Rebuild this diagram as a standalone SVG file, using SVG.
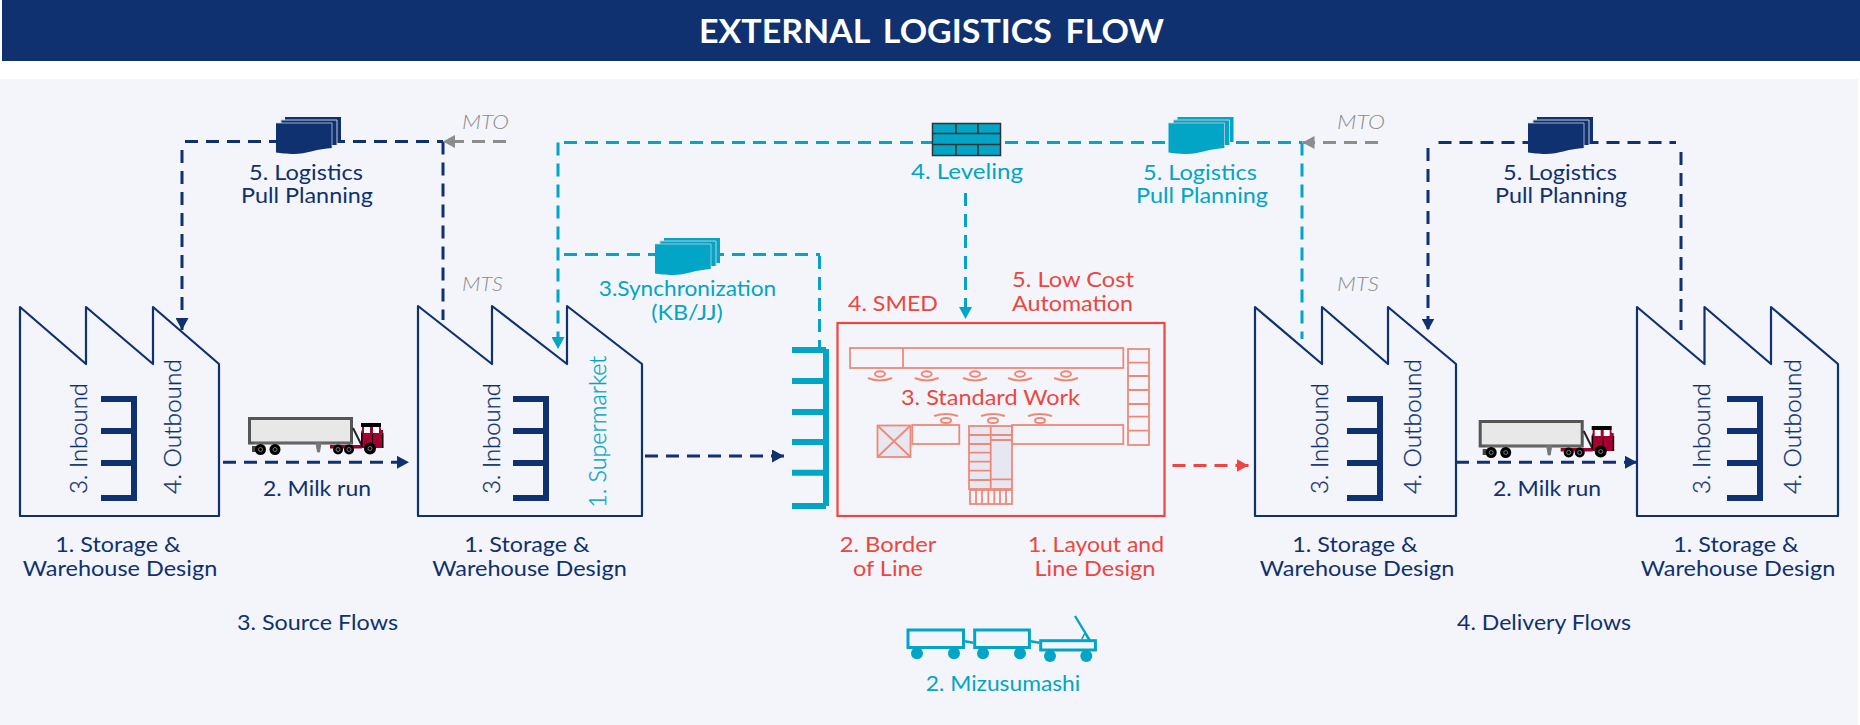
<svg xmlns="http://www.w3.org/2000/svg" xmlns:xlink="http://www.w3.org/1999/xlink" width="1860" height="725" viewBox="0 0 1860 725">
<style>
text{font-family:"Lato","Liberation Sans",sans-serif;font-size:22px;font-weight:400;text-anchor:middle}
.navy{fill:#10316F}.cyan{fill:#02A5C5}.red{fill:#EE4540}
.grey{fill:#8C8C8C;font-style:italic;font-size:20.500px;font-weight:300;text-anchor:start}
.rot{font-size:24px;font-weight:300;text-anchor:start;stroke-width:0.300px}
.rot.navy{stroke:#10316F}.rot.cyan{stroke:#02A5C5}
.factory{fill:none;stroke:#10316F;stroke-width:2.200;stroke-linejoin:round}
.rack{fill:none;stroke:#10316F;stroke-width:6}
.crack{fill:none;stroke:#02A5C5;stroke-width:6}
.dash{fill:none;stroke-width:3;stroke-dasharray:13 8}
.sn{stroke:#10316F}.sc{stroke:#02A5C5}.sg{stroke:#8C8C8C}.sr{stroke:#EE4540}
.sal{fill:none;stroke:#F08878;stroke-width:1.800}
.salf{fill:#E6E7F0;stroke:#F08878;stroke-width:1.800}
.op{fill:none;stroke:#F08878;stroke-width:2}
</style>
<defs>
<marker id="an" markerUnits="userSpaceOnUse" markerWidth="13" markerHeight="13" refX="12" refY="6.500" orient="auto"><path d="M0 0L12 6.500L0 13Z" fill="#10316F"/></marker>
<marker id="ac" markerUnits="userSpaceOnUse" markerWidth="13" markerHeight="13" refX="12" refY="6.500" orient="auto"><path d="M0 0L12 6.500L0 13Z" fill="#02A5C5"/></marker>
<marker id="ag" markerUnits="userSpaceOnUse" markerWidth="13" markerHeight="13" refX="12" refY="6.500" orient="auto"><path d="M0 0L12 6.500L0 13Z" fill="#8C8C8C"/></marker>
<marker id="ar" markerUnits="userSpaceOnUse" markerWidth="13" markerHeight="13" refX="12" refY="6.500" orient="auto"><path d="M0 0L12 6.500L0 13Z" fill="#EE4540"/></marker>
<g id="doc">
<rect x="9" y="0" width="56" height="25"/>
<path d="M5 28V3H61V28" stroke="#C3CBDD" stroke-width="1"/>
<path d="M0 6H56V31C42 31.500 30 37 18 37C10 37 5 36 0 35.500Z"/>
<path d="M0 6H56V31" fill="none" stroke="#C3CBDD" stroke-width="0.800"/>
</g>
<path id="rackE" class="rack" d="M0 3H33M0 35H33M0 67H33M0 102H33M33 0V105"/>
<g id="truck">
<rect x="249.500" y="418.500" width="102" height="24.500" fill="#E8E8E8" stroke="#555" stroke-width="3"/>
<path d="M254 443H352M316 443H321L319.500 452H317.500Z" fill="#777" stroke="#777" stroke-width="1"/>
<path d="M252 446H256V452H252Z" fill="#444"/>
<path d="M362 446L353 428" fill="none" stroke="#222" stroke-width="2"/>
<rect x="330" y="445" width="32" height="3.500" fill="#A00030"/>
<path d="M362 424L364 423H380L381 430H383V448H361V432L362 430Z" fill="#A50032"/>
<rect x="361" y="423" width="20" height="4" fill="#000"/>
<rect x="364" y="427" width="6" height="6" fill="#fff"/>
<rect x="373" y="427" width="6" height="6" fill="#fff"/>
<rect x="361" y="433" width="1.500" height="14" fill="#000"/>
<rect x="372" y="434" width="1" height="10" fill="#000"/>
<rect x="382" y="433" width="1.500" height="15" fill="#000"/>
<g fill="#000"><circle cx="260.500" cy="449.500" r="5.500"/><circle cx="275" cy="449.500" r="5.500"/><circle cx="338" cy="449.500" r="5"/><circle cx="349" cy="449.500" r="5"/><circle cx="370" cy="448.500" r="6"/></g>
<g fill="none" stroke="#999" stroke-width="0.800"><circle cx="260.500" cy="449.500" r="2"/><circle cx="275" cy="449.500" r="2"/><circle cx="338" cy="449.500" r="2"/><circle cx="349" cy="449.500" r="2"/><circle cx="370" cy="448.500" r="2"/></g>
</g>
<g id="opTop"><ellipse cx="0" cy="-2" rx="5" ry="2.800"/><path d="M-12 2Q0 7 12 2"/></g>
<g id="opBot"><path d="M-12 -2Q0 -6 12 -2"/><ellipse cx="0" cy="2.500" rx="5" ry="2.500"/></g>
</defs>

<rect width="1860" height="725" fill="#fff"/>
<rect id="panel" x="0" y="79" width="1858" height="646" fill="#F3F5FA"/>
<g id="header"><rect x="2" y="0" width="1858" height="61" fill="#10316F"/>
<text x="931.500" y="42.700" textLength="465" lengthAdjust="spacingAndGlyphs" style="font-size:32px;font-weight:700;fill:#fff;word-spacing:5px">EXTERNAL LOGISTICS FLOW</text></g>

<g id="connectors">
<path class="dash sn" d="M185 141.500H443"/>
<path class="dash sn" d="M182 150V330" marker-end="url(#an)"/>
<path class="dash sn" d="M443 141.500V320"/>
<path class="dash sg" d="M506 141.500H443" marker-end="url(#ag)"/>
<path class="dash sc" d="M564 142.500H1302"/>
<path class="dash sc" d="M558 142.500V349" marker-end="url(#ac)"/>
<path class="dash sc" d="M564 254.500H820"/>
<path class="dash sc" d="M819.500 256V349"/>
<path class="dash sc" d="M965.500 193V319" marker-end="url(#ac)"/>
<path class="dash sc" d="M1302 142.500V339"/>
<path class="dash sg" d="M1378 142.500H1302.500" marker-end="url(#ag)"/>
<path class="dash sn" d="M1438.500 142.500H1676"/>
<path class="dash sn" d="M1428 148V330.500" marker-end="url(#an)"/>
<path class="dash sn" d="M1681 152V330"/>
<path class="dash sn" d="M223 462.300H409" marker-end="url(#an)"/>
<path class="dash sn" d="M1456 462.300H1637" marker-end="url(#an)"/>
<path class="dash sn" d="M645 456H784" marker-end="url(#an)"/>
<path class="dash sr" d="M1172.500 465.500H1248.500" marker-end="url(#ar)"/>
</g>

<g id="factory-1">
<path class="factory" d="M20 516V307L86 364V307L153 364V307L219 364V516Z"/>
<use xlink:href="#rackE" href="#rackE" x="101" y="396"/>
<text class="navy rot" transform="translate(86.500 494) rotate(-90)" textLength="111" lengthAdjust="spacingAndGlyphs">3. Inbound</text>
<text class="navy rot" transform="translate(181 494) rotate(-90)" textLength="135" lengthAdjust="spacingAndGlyphs">4. Outbound</text>
<text class="navy" x="118" y="552.300" textLength="125.500" lengthAdjust="spacingAndGlyphs">1. Storage &amp;</text>
<text class="navy" x="120" y="576" textLength="194.500" lengthAdjust="spacingAndGlyphs">Warehouse Design</text>
</g>
<g id="factory-2">
<path class="factory" d="M418 516V306L492 364V306L567 364V306L642 364V516Z"/>
<use xlink:href="#rackE" href="#rackE" x="513" y="396"/>
<text class="navy rot" transform="translate(500 494) rotate(-90)" textLength="111" lengthAdjust="spacingAndGlyphs">3. Inbound</text>
<text class="cyan rot" transform="translate(606 507.700) rotate(-90)" textLength="152" lengthAdjust="spacingAndGlyphs">1. Supermarket</text>
<text class="navy" x="527" y="552.300" textLength="125.500" lengthAdjust="spacingAndGlyphs">1. Storage &amp;</text>
<text class="navy" x="529.500" y="576" textLength="194.500" lengthAdjust="spacingAndGlyphs">Warehouse Design</text>
</g>
<g id="factory-3">
<path class="factory" d="M1255 516V307L1322 364V307L1388 364V307L1456 364V516Z"/>
<use xlink:href="#rackE" href="#rackE" x="1347" y="396"/>
<text class="navy rot" transform="translate(1328 494) rotate(-90)" textLength="111" lengthAdjust="spacingAndGlyphs">3. Inbound</text>
<text class="navy rot" transform="translate(1420.500 494) rotate(-90)" textLength="135" lengthAdjust="spacingAndGlyphs">4. Outbound</text>
<text class="navy" x="1355" y="552.300" textLength="125.500" lengthAdjust="spacingAndGlyphs">1. Storage &amp;</text>
<text class="navy" x="1357" y="576" textLength="194.500" lengthAdjust="spacingAndGlyphs">Warehouse Design</text>
</g>
<g id="factory-4">
<path class="factory" d="M1637 516V307L1704.500 364V307L1771 364V307L1838 364V516Z"/>
<use xlink:href="#rackE" href="#rackE" x="1727" y="396"/>
<text class="navy rot" transform="translate(1710 494) rotate(-90)" textLength="111" lengthAdjust="spacingAndGlyphs">3. Inbound</text>
<text class="navy rot" transform="translate(1800.500 494) rotate(-90)" textLength="135" lengthAdjust="spacingAndGlyphs">4. Outbound</text>
<text class="navy" x="1736" y="552.300" textLength="125.500" lengthAdjust="spacingAndGlyphs">1. Storage &amp;</text>
<text class="navy" x="1738" y="576" textLength="194.500" lengthAdjust="spacingAndGlyphs">Warehouse Design</text>
</g>

<g id="plan-source">
<use xlink:href="#doc" href="#doc" x="276" y="117" fill="#10316F"/>
<text class="navy" x="306" y="179.500" textLength="114" lengthAdjust="spacingAndGlyphs">5. Logistics</text>
<text class="navy" x="307" y="203.300" textLength="132" lengthAdjust="spacingAndGlyphs">Pull Planning</text>
</g>
<g id="mto-mts-1">
<text class="grey" x="462" y="128.500" textLength="47" lengthAdjust="spacingAndGlyphs">MTO</text>
<text class="grey" x="462" y="290.500" textLength="41" lengthAdjust="spacingAndGlyphs">MTS</text>
</g>
<g id="leveling">
<rect x="932.500" y="123.500" width="68" height="32" fill="#02A5C5" stroke="#333" stroke-width="1.500"/>
<path d="M932.500 133.500H1000.500M932.500 144.500H1000.500M956 123.500V133.500M978 123.500V133.500M956 144.500V155.500M978 144.500V155.500" fill="none" stroke="#333" stroke-width="1.500"/>
<text class="cyan" x="967" y="179.300" textLength="112" lengthAdjust="spacingAndGlyphs">4. Leveling</text>
</g>
<g id="plan-cyan">
<use xlink:href="#doc" href="#doc" x="1168.500" y="117" fill="#02A5C5"/>
<text class="cyan" x="1200" y="179.500" textLength="114" lengthAdjust="spacingAndGlyphs">5. Logistics</text>
<text class="cyan" x="1202" y="203.300" textLength="132" lengthAdjust="spacingAndGlyphs">Pull Planning</text>
</g>
<g id="mto-mts-2">
<text class="grey" x="1337" y="128.500" textLength="48" lengthAdjust="spacingAndGlyphs">MTO</text>
<text class="grey" x="1337" y="290.500" textLength="42" lengthAdjust="spacingAndGlyphs">MTS</text>
</g>
<g id="plan-delivery">
<use xlink:href="#doc" href="#doc" x="1528" y="117" fill="#10316F"/>
<text class="navy" x="1560" y="179.500" textLength="114" lengthAdjust="spacingAndGlyphs">5. Logistics</text>
<text class="navy" x="1561" y="203.300" textLength="132" lengthAdjust="spacingAndGlyphs">Pull Planning</text>
</g>
<g id="synchronization">
<use xlink:href="#doc" href="#doc" x="655" y="238" fill="#02A5C5"/>
<text class="cyan" x="687.500" y="296" textLength="177.500" lengthAdjust="spacingAndGlyphs">3.Synchronization</text>
<text class="cyan" x="687" y="320" textLength="71.500" lengthAdjust="spacingAndGlyphs">(KB/JJ)</text>
</g>

<g id="milk-run-1">
<use xlink:href="#truck" href="#truck"/>
<text class="navy" x="317" y="496" textLength="108" lengthAdjust="spacingAndGlyphs">2. Milk run</text>
</g>
<g id="milk-run-2">
<use xlink:href="#truck" href="#truck" x="1230.700" y="3"/>
<text class="navy" x="1547" y="496" textLength="108" lengthAdjust="spacingAndGlyphs">2. Milk run</text>
</g>

<g id="border-rack">
<path class="crack" d="M792 350H826M792 381H826M792 412H826M792 442H826M792 472.700H826M792 506H826M826 349V506"/>
</g>

<g id="line-cell">
<rect x="837.500" y="323" width="327" height="193" fill="none" stroke="#EE4540" stroke-width="2.200"/>
<rect class="sal" x="850" y="348" width="273.300" height="20"/><path class="sal" d="M903 348V368"/>
<rect class="sal" x="1128" y="349" width="21" height="96"/>
<path class="sal" d="M1128 362.700H1149M1128 376H1149M1128 390H1149M1128 404H1149M1128 416.700H1149M1128 430.700H1149"/>
<g class="op"><use xlink:href="#opTop" href="#opTop" x="880" y="376"/><use xlink:href="#opTop" href="#opTop" x="926.700" y="376"/><use xlink:href="#opTop" href="#opTop" x="975" y="376"/><use xlink:href="#opTop" href="#opTop" x="1020" y="376"/><use xlink:href="#opTop" href="#opTop" x="1066" y="376"/>
<use xlink:href="#opBot" href="#opBot" x="946" y="418"/><use xlink:href="#opBot" href="#opBot" x="993" y="418"/><use xlink:href="#opBot" href="#opBot" x="1040" y="418"/></g>
<text class="red" x="990.500" y="405" textLength="179" lengthAdjust="spacingAndGlyphs">3. Standard Work</text>
<rect class="salf" x="877.500" y="425.500" width="33" height="31.500"/><path class="sal" d="M877.500 425.500L910.500 457M910.500 425.500L877.500 457"/>
<rect class="sal" x="912.300" y="425" width="47" height="19"/>
<rect class="salf" x="969" y="426" width="43" height="63"/>
<path class="sal" d="M990.700 426V489M969 435H1012M969 444H990.700M969 452.700H990.700M969 461.700H990.700M969 470.700H990.700M969 480H990.700M990.700 440H1012M990.700 479.300H1012"/>
<rect class="sal" x="970" y="490" width="42" height="14"/>
<path class="sal" d="M976 490V504M982 490V504M988.300 490V504M994.300 490V504M1000 490V504M1006 490V504"/>
<rect class="sal" x="1012" y="425" width="111.300" height="19"/>
</g>
<g id="cell-labels">
<text class="red" x="893" y="311" textLength="90" lengthAdjust="spacingAndGlyphs">4. SMED</text>
<text class="red" x="1073" y="287" textLength="122" lengthAdjust="spacingAndGlyphs">5. Low Cost</text>
<text class="red" x="1072.500" y="311" textLength="121" lengthAdjust="spacingAndGlyphs">Automation</text>
<text class="red" x="888" y="552" textLength="96.700" lengthAdjust="spacingAndGlyphs">2. Border</text>
<text class="red" x="888" y="576" textLength="70" lengthAdjust="spacingAndGlyphs">of Line</text>
<text class="red" x="1096" y="552" textLength="136" lengthAdjust="spacingAndGlyphs">1. Layout and</text>
<text class="red" x="1095" y="576" textLength="121" lengthAdjust="spacingAndGlyphs">Line Design</text>
</g>

<g id="mizusumashi">
<g fill="none" stroke="#02A5C5" stroke-width="3">
<rect x="908" y="630" width="55.500" height="17.500"/>
<rect x="974.700" y="630" width="54.700" height="17.500"/>
<rect x="1040.700" y="640.700" width="54.700" height="9.300"/>
<path d="M964.700 641.300L973.300 642.700M1030.700 641.300L1039.300 642.700M1075 616L1090 640.700" stroke-width="2.400"/>
<path d="M1081.700 639.300L1085 633L1088.300 639.300" stroke-width="1.600"/>
</g>
<g fill="#02A5C5"><circle cx="917" cy="653.300" r="6"/><circle cx="954" cy="653.300" r="6"/><circle cx="983" cy="653.300" r="6"/><circle cx="1020" cy="653.300" r="6"/><circle cx="1050" cy="656" r="6"/><circle cx="1086.300" cy="656" r="6"/></g>
<text class="cyan" x="1003" y="691" textLength="154.500" lengthAdjust="spacingAndGlyphs">2. Mizusumashi</text>
</g>

<text class="navy" x="317.500" y="630" textLength="161" lengthAdjust="spacingAndGlyphs">3. Source Flows</text>
<text class="navy" x="1544" y="630" textLength="174" lengthAdjust="spacingAndGlyphs">4. Delivery Flows</text>
</svg>
